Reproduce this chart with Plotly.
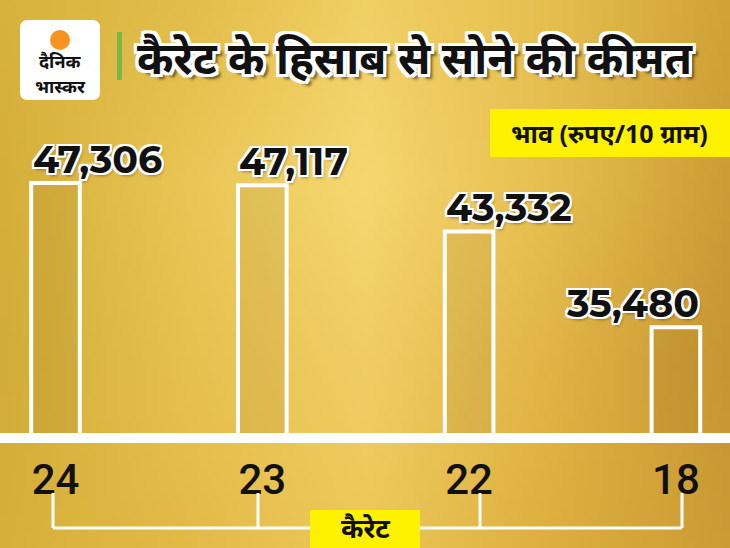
import zlib, struct, base64
import plotly.graph_objects as go

# ---------------- data ----------------
carats = ["24", "23", "22", "18"]
prices = [47306, 47117, 43332, 35480]
price_labels = ["47,306", "47,117", "43,332", "35,480"]
title_text = "कैरेट के हिसाब से सोने की कीमत"
unit_text = "भाव (रुपए/10 ग्राम)"
axis_text = "कैरेट"

W, H = 730, 548

def px(x):
    return x / W

def py(y):
    return 1 - y / H

# ---------------- gold background (gradient png) ----------------
grid = [
    [(215, 178, 60), (226, 188, 72), (240, 207, 100), (230, 190, 80), (208, 162, 55)],
    [(212, 174, 56), (233, 197, 85), (246, 215, 112), (230, 190, 80), (203, 157, 53)],
    [(210, 172, 56), (230, 192, 78), (240, 205, 100), (225, 180, 70), (198, 150, 50)],
    [(214, 175, 58), (227, 185, 70), (236, 200, 90), (220, 175, 62), (203, 156, 52)],
]

def make_png(w, h):
    gx, gy = len(grid[0]) - 1, len(grid) - 1
    raw = bytearray()
    for j in range(h):
        raw.append(0)
        fy = j / (h - 1) * gy
        j0 = min(int(fy), gy - 1)
        ty = fy - j0
        for i in range(w):
            fx = i / (w - 1) * gx
            i0 = min(int(fx), gx - 1)
            tx = fx - i0
            c = []
            for k in range(3):
                a = grid[j0][i0][k] * (1 - tx) + grid[j0][i0 + 1][k] * tx
                b = grid[j0 + 1][i0][k] * (1 - tx) + grid[j0 + 1][i0 + 1][k] * tx
                c.append(int(round(a * (1 - ty) + b * ty)))
            raw.extend(bytes(c))

    def chunk(tag, data):
        return struct.pack(">I", len(data)) + tag + data + struct.pack(">I", zlib.crc32(tag + data) & 0xffffffff)

    png = b"\x89PNG\r\n\x1a\n"
    png += chunk(b"IHDR", struct.pack(">IIBBBBB", w, h, 8, 2, 0, 0, 0))
    png += chunk(b"IDAT", zlib.compress(bytes(raw), 9))
    png += chunk(b"IEND", b"")
    return "data:image/png;base64," + base64.b64encode(png).decode()

bg = make_png(146, 110)

# ---------------- figure ----------------
fig = go.Figure()

fig.add_trace(go.Bar(
    x=carats, y=prices, width=0.235,
    marker=dict(color="rgba(120,85,20,0.10)", line=dict(color="white", width=4)),
    hoverinfo="skip",
))

def outline(n, col="#fff"):
    pts = [(-n, -n), (n, -n), (-n, n), (n, n), (0, n), (n, 0), (0, -n), (-n, 0)]
    return ", ".join(f"{dx}px {dy}px 0 {col}" for dx, dy in pts)

annotations = []
for i, (v, lab) in enumerate(zip(prices, price_labels)):
    last = i == len(prices) - 1
    annotations.append(dict(
        x=i, y=v, xref="x", yref="y", text=f"<b>{lab}</b>", showarrow=False,
        xanchor="right" if last else "left", yanchor="bottom",
        xshift=25 if last else -25, yshift=-2,
        font=dict(family="Montserrat, Open Sans, sans-serif", size=38, color="#111",
                  shadow=outline(2) + ", 2px 3px 3px rgba(0,0,0,0.35)"),
    ))

# title
annotations.append(dict(
    x=px(135), y=py(57), xref="paper", yref="paper", text=f"<b>{title_text}</b>",
    showarrow=False, xanchor="left", yanchor="middle",
    font=dict(family="Noto Sans, sans-serif", size=44, color="#111",
              shadow=outline(3) + ", 5px 5px 3px rgba(0,0,0,0.55)"),
))
# logo text
annotations.append(dict(x=px(60), y=py(61), xref="paper", yref="paper", text="<b>दैनिक</b>",
                        showarrow=False, xanchor="center", yanchor="middle",
                        font=dict(family="Noto Sans, sans-serif", size=18, color="#111")))
annotations.append(dict(x=px(60), y=py(86), xref="paper", yref="paper", text="<b>भास्कर</b>",
                        showarrow=False, xanchor="center", yanchor="middle",
                        font=dict(family="Noto Sans, sans-serif", size=18, color="#111")))
# unit box text
annotations.append(dict(x=px(609), y=py(133), xref="paper", yref="paper", text=f"<b>{unit_text}</b>",
                        showarrow=False, xanchor="center", yanchor="middle",
                        font=dict(family="Noto Sans, sans-serif", size=25, color="#111")))
# axis caption
annotations.append(dict(x=px(365), y=py(527), xref="paper", yref="paper", text=f"<b>{axis_text}</b>",
                        showarrow=False, xanchor="center", yanchor="middle",
                        font=dict(family="Noto Sans, sans-serif", size=27, color="#111")))

shapes = []
# logo box (rounded)
x0, x1, y0, y1, r = px(20), px(100), py(100), py(20), 8
rx, ry = r / W, r / H
shapes.append(dict(
    type="path", xref="paper", yref="paper", fillcolor="white", line=dict(width=0), layer="above",
    path=(f"M {x0+rx},{y0} L {x1-rx},{y0} Q {x1},{y0} {x1},{y0+ry} L {x1},{y1-ry} "
          f"Q {x1},{y1} {x1-rx},{y1} L {x0+rx},{y1} Q {x0},{y1} {x0},{y1-ry} "
          f"L {x0},{y0+ry} Q {x0},{y0} {x0+rx},{y0} Z"),
))
shapes.append(dict(type="circle", xref="paper", yref="paper", x0=px(50), x1=px(70), y0=py(50), y1=py(30),
                   fillcolor="#f7931e", line=dict(width=0), layer="above"))
# green divider
shapes.append(dict(type="rect", xref="paper", yref="paper", x0=px(117), x1=px(122), y0=py(80), y1=py(32),
                   fillcolor="#7ab648", line=dict(width=0), layer="above"))
# unit box
shapes.append(dict(type="rect", xref="paper", yref="paper", x0=px(490), x1=px(730), y0=py(157), y1=py(109),
                   fillcolor="#fff200", line=dict(width=0), layer="below"))
# baseline band
shapes.append(dict(type="rect", xref="paper", yref="paper", x0=0, x1=1, y0=py(443), y1=py(433),
                   fillcolor="white", line=dict(width=0), layer="above"))
# bracket
bcol = dict(color="white", width=3)
shapes.append(dict(type="line", xref="paper", yref="paper", x0=px(53), x1=px(682), y0=py(528), y1=py(528), line=bcol))
for bx in [53, 258, 480, 682]:
    shapes.append(dict(type="line", xref="paper", yref="paper", x0=px(bx), x1=px(bx), y0=py(493), y1=py(528), line=bcol))
shapes.append(dict(type="rect", xref="paper", yref="paper", x0=px(310), x1=px(420), y0=py(548), y1=py(510),
                   fillcolor="#fff200", line=dict(width=0), layer="above"))

fig.update_layout(
    width=W, height=H, autosize=False,
    margin=dict(l=0, r=0, t=0, b=0),
    paper_bgcolor="#e0b850", plot_bgcolor="rgba(0,0,0,0)",
    showlegend=False,
    images=[dict(source=bg, xref="paper", yref="paper", x=0, y=1, sizex=1, sizey=1,
                 sizing="stretch", layer="below", xanchor="left", yanchor="top")],
    xaxis=dict(domain=[0, 1], range=[-0.2684, 3.2616], type="category",
               showgrid=False, zeroline=False, showline=False,
               ticks="outside", ticklen=10, tickcolor="rgba(0,0,0,0)",
               tickfont=dict(family="Roboto, sans-serif", size=42, color="#111", weight=500)),
    yaxis=dict(domain=[py(433), py(100)], range=[26819, 54105], visible=False),
    shapes=shapes, annotations=annotations,
)

fig.write_html("out.html", config={"displayModeBar": False, "staticPlot": True},
               post_script="document.body.style.margin='0';document.body.style.overflow='hidden';")
